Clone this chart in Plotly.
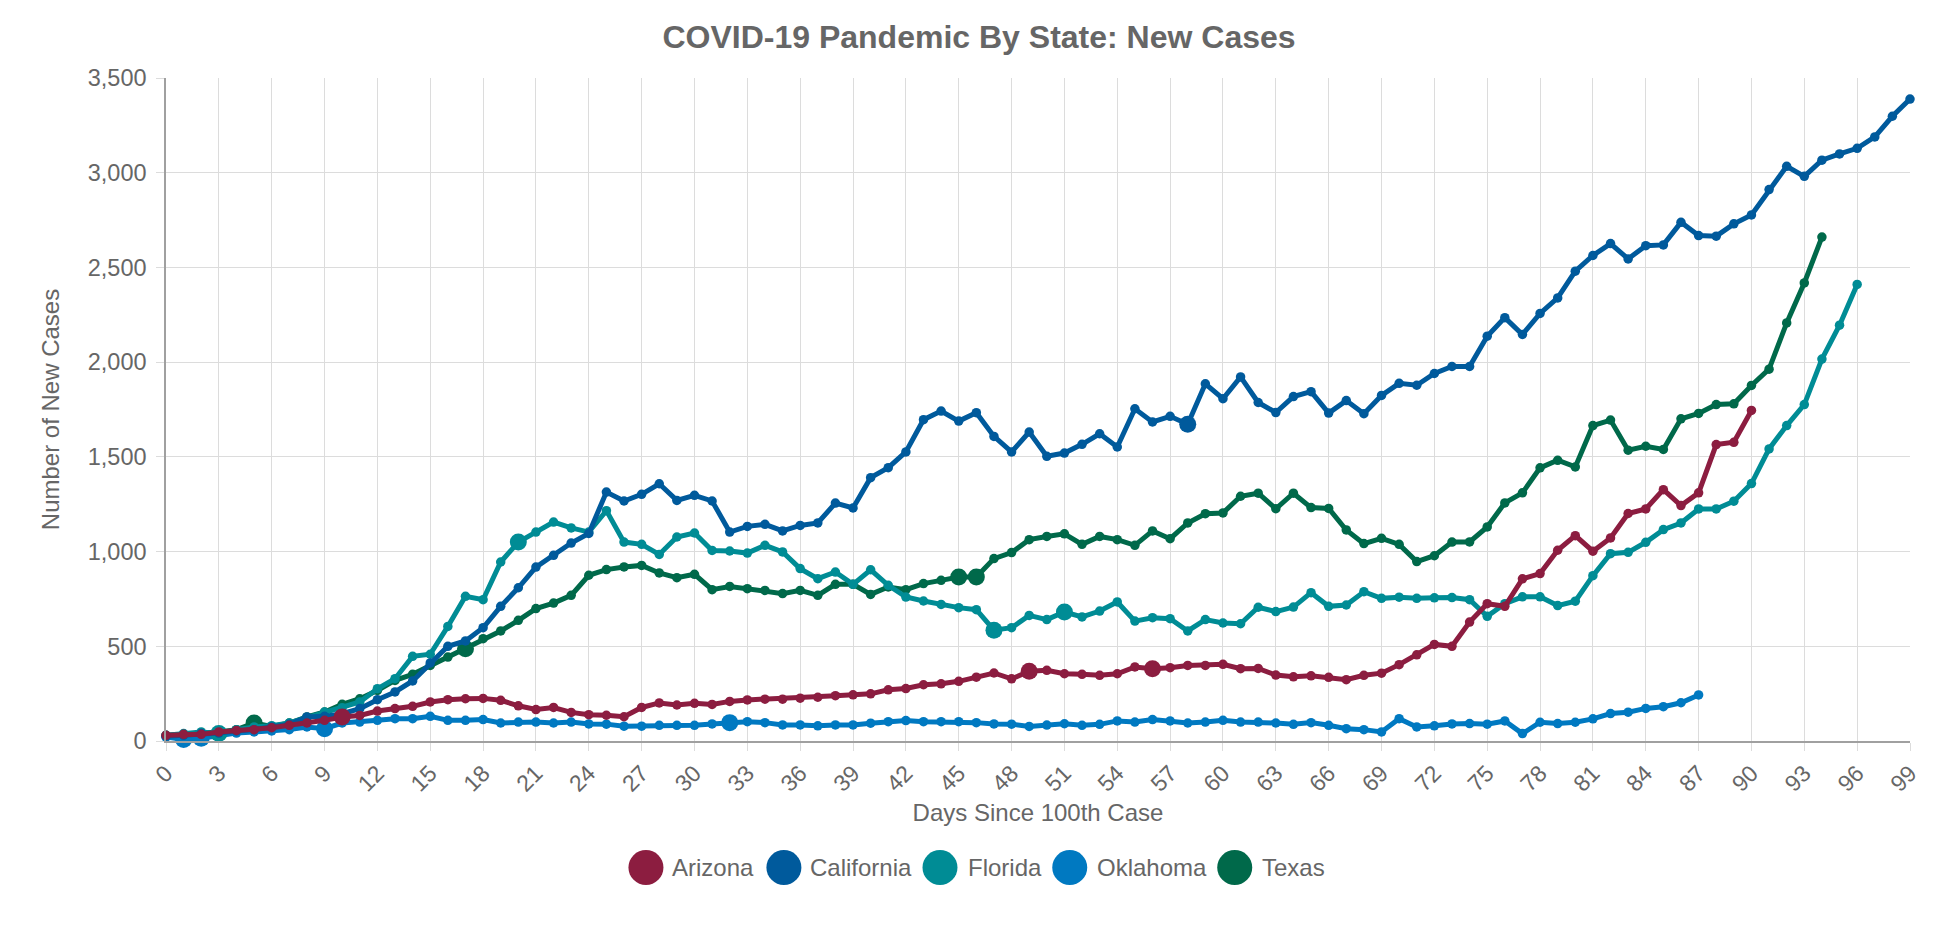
import plotly.graph_objects as go

# ---------------- data ----------------
states = ["Arizona", "California", "Florida", "Oklahoma", "Texas"]
colors = ["#8C1D40", "#005A9C", "#008C95", "#0079C1", "#00694A"]

arizona = [30, 35, 35, 48, 56, 60, 70, 83, 95, 109, 127, 135, 158, 171, 183, 206, 218, 223, 225, 215,
           186, 166, 177, 151, 139, 136, 128, 177, 201, 190, 199, 193, 209, 217, 221, 221, 226, 231, 239, 244,
           249, 270, 277, 297, 302, 315, 337, 359, 328, 368, 373, 355, 352, 347, 355, 391, 382, 387, 399, 399,
           405, 382, 383, 348, 339, 344, 336, 324, 347, 358, 403, 455, 510, 500, 628, 725, 711, 856, 884, 1007,
           1084, 1002, 1072, 1201, 1225, 1327, 1243, 1310, 1565, 1577, 1745]

california = [25, 30, 39, 42, 53, 60, 74, 88, 127, 130, 144, 171, 218, 259, 317, 412, 500, 528, 598, 711,
              809, 918, 980, 1045, 1096, 1314, 1267, 1302, 1358, 1270, 1297, 1267, 1103, 1133, 1144, 1109, 1138, 1151, 1256, 1230,
              1390, 1443, 1526, 1696, 1742, 1689, 1733, 1608, 1526, 1631, 1503, 1520, 1566, 1622, 1552, 1754, 1684, 1714, 1672, 1886,
              1807, 1922, 1787, 1734, 1818, 1844, 1731, 1797, 1728, 1824, 1888, 1878, 1940, 1977, 1977, 2137, 2235, 2146, 2257, 2339,
              2480, 2563, 2626, 2545, 2615, 2619, 2738, 2668, 2665, 2730, 2777, 2911, 3034, 2981, 3066, 3099, 3129, 3189, 3298, 3389]

florida = [30, 39, 48, 39, 60, 74, 81, 95, 123, 153, 176, 206, 276, 329, 447, 458, 605, 764, 746, 945,
           1050, 1103, 1156, 1125, 1103, 1216, 1050, 1038, 985, 1077, 1098, 1006, 1003, 992, 1033, 998, 910, 857, 892, 827,
           904, 822, 760, 739, 721, 704, 693, 585, 598, 663, 641, 681, 655, 686, 734, 633, 651, 646, 581, 641,
           623, 619, 706, 683, 707, 783, 711, 718, 788, 753, 759, 753, 756, 757, 746, 658, 725, 761, 761, 715,
           738, 873, 989, 996, 1049, 1116, 1151, 1225, 1225, 1266, 1359, 1542, 1665, 1776, 2016, 2195, 2410]

oklahoma = [21, 8, 14, 30, 42, 48, 53, 60, 74, 65, 95, 100, 109, 118, 118, 130, 109, 109, 113, 95,
            100, 100, 95, 100, 90, 89, 78, 78, 83, 83, 83, 90, 97, 102, 97, 85, 85, 80, 85, 85,
            94, 102, 108, 102, 102, 102, 97, 90, 89, 77, 84, 91, 83, 88, 106, 100, 113, 106, 95, 100,
            109, 100, 100, 95, 88, 97, 83, 65, 60, 48, 118, 74, 80, 90, 92, 89, 106, 39, 99, 92,
            99, 117, 145, 152, 172, 181, 202, 243]

texas = [30, 35, 39, 48, 60, 95, 77, 95, 127, 153, 194, 223, 267, 320, 352, 399, 443, 487, 540, 581,
         637, 699, 728, 769, 875, 905, 919, 927, 887, 862, 880, 799, 816, 804, 795, 778, 795, 769, 827, 827,
         774, 813, 799, 831, 848, 866, 866, 963, 995, 1063, 1080, 1094, 1038, 1080, 1063, 1033, 1109, 1068, 1151, 1200,
         1204, 1292, 1308, 1226, 1308, 1232, 1228, 1114, 1042, 1070, 1038, 947, 978, 1050, 1051, 1130, 1257, 1310, 1442, 1482,
         1447, 1665, 1694, 1535, 1556, 1539, 1701, 1729, 1776, 1780, 1877, 1963, 2207, 2418, 2660]

# days carrying a highlighted (larger) marker
arizona_events = [10, 49, 56]
california_events = [58]
florida_events = [3, 20, 47, 51]
oklahoma_events = [1, 2, 9, 32]
texas_events = [5, 17, 45, 46]

series = [arizona, california, florida, oklahoma, texas]
events = [arizona_events, california_events, florida_events, oklahoma_events, texas_events]

# ---------------- figure ----------------
FONT = "Liberation Sans, Arial, sans-serif"
TXT = "#666666"
GRID = "#dcdcdc"

fig = go.Figure()
for name, col, vals, ev in reversed(list(zip(states, colors, series, events))):
    days = list(range(len(vals)))
    sizes = [17 if d in ev else 9.5 for d in days]
    fig.add_trace(go.Scatter(
        x=days, y=vals, mode="lines+markers", name=name,
        line=dict(color=col, width=5),
        marker=dict(size=sizes, color=col, opacity=1, line=dict(width=0)),
        cliponaxis=False, showlegend=False,
    ))

# custom legend with large round swatches
leg_circle_x = [0.2752, 0.3543, 0.4438, 0.5182, 0.6128]
leg_text_x = [0.2890, 0.3684, 0.4587, 0.5327, 0.6273]
leg_y = -0.1908
shapes = []
annotations = []
for name, col, cx, tx in zip(states, colors, leg_circle_x, leg_text_x):
    shapes.append(dict(type="circle", xref="paper", yref="paper",
                       xsizemode="pixel", ysizemode="pixel",
                       xanchor=cx, yanchor=leg_y,
                       x0=-17.5, x1=17.5, y0=-17.5, y1=17.5,
                       fillcolor=col, line=dict(width=0)))
    annotations.append(dict(text=name, xref="paper", yref="paper", x=tx, y=leg_y,
                            xanchor="left", yanchor="middle", showarrow=False,
                            font=dict(family=FONT, size=24, color=TXT)))

fig.update_layout(
    width=1958, height=926,
    margin=dict(l=166, r=48, t=78, b=185),
    paper_bgcolor="white", plot_bgcolor="white",
    font=dict(family=FONT, color=TXT),
    title=dict(text="<b>COVID-19 Pandemic By State: New Cases</b>",
               x=0.5, xanchor="center", y=1 - 37 / 926, yanchor="middle",
               font=dict(family=FONT, size=32, color=TXT)),
    shapes=shapes, annotations=annotations,
    hovermode="closest",
)
fig.update_xaxes(
    range=[0, 99], tick0=0, dtick=3, tickangle=-45,
    showgrid=True, gridcolor=GRID, gridwidth=1,
    ticks="outside", ticklen=8, tickcolor=GRID,
    showline=True, linecolor="#a0a0a0", linewidth=1.5,
    zeroline=False,
    tickfont=dict(family=FONT, size=23, color=TXT),
    title=dict(text="Days Since 100th Case", font=dict(family=FONT, size=24, color=TXT), standoff=9),
)
fig.update_yaxes(
    range=[0, 3500], tick0=0, dtick=500, tickformat=",",
    showgrid=True, gridcolor=GRID, gridwidth=1,
    ticks="outside", ticklen=8, tickcolor=GRID,
    showline=True, linecolor="#a0a0a0", linewidth=1.5,
    zeroline=False, ticklabelstandoff=5,
    tickfont=dict(family=FONT, size=23.5, color=TXT),
    title=dict(text="Number of New Cases", font=dict(family=FONT, size=24, color=TXT), standoff=21),
)

fig.write_html("out.html")
